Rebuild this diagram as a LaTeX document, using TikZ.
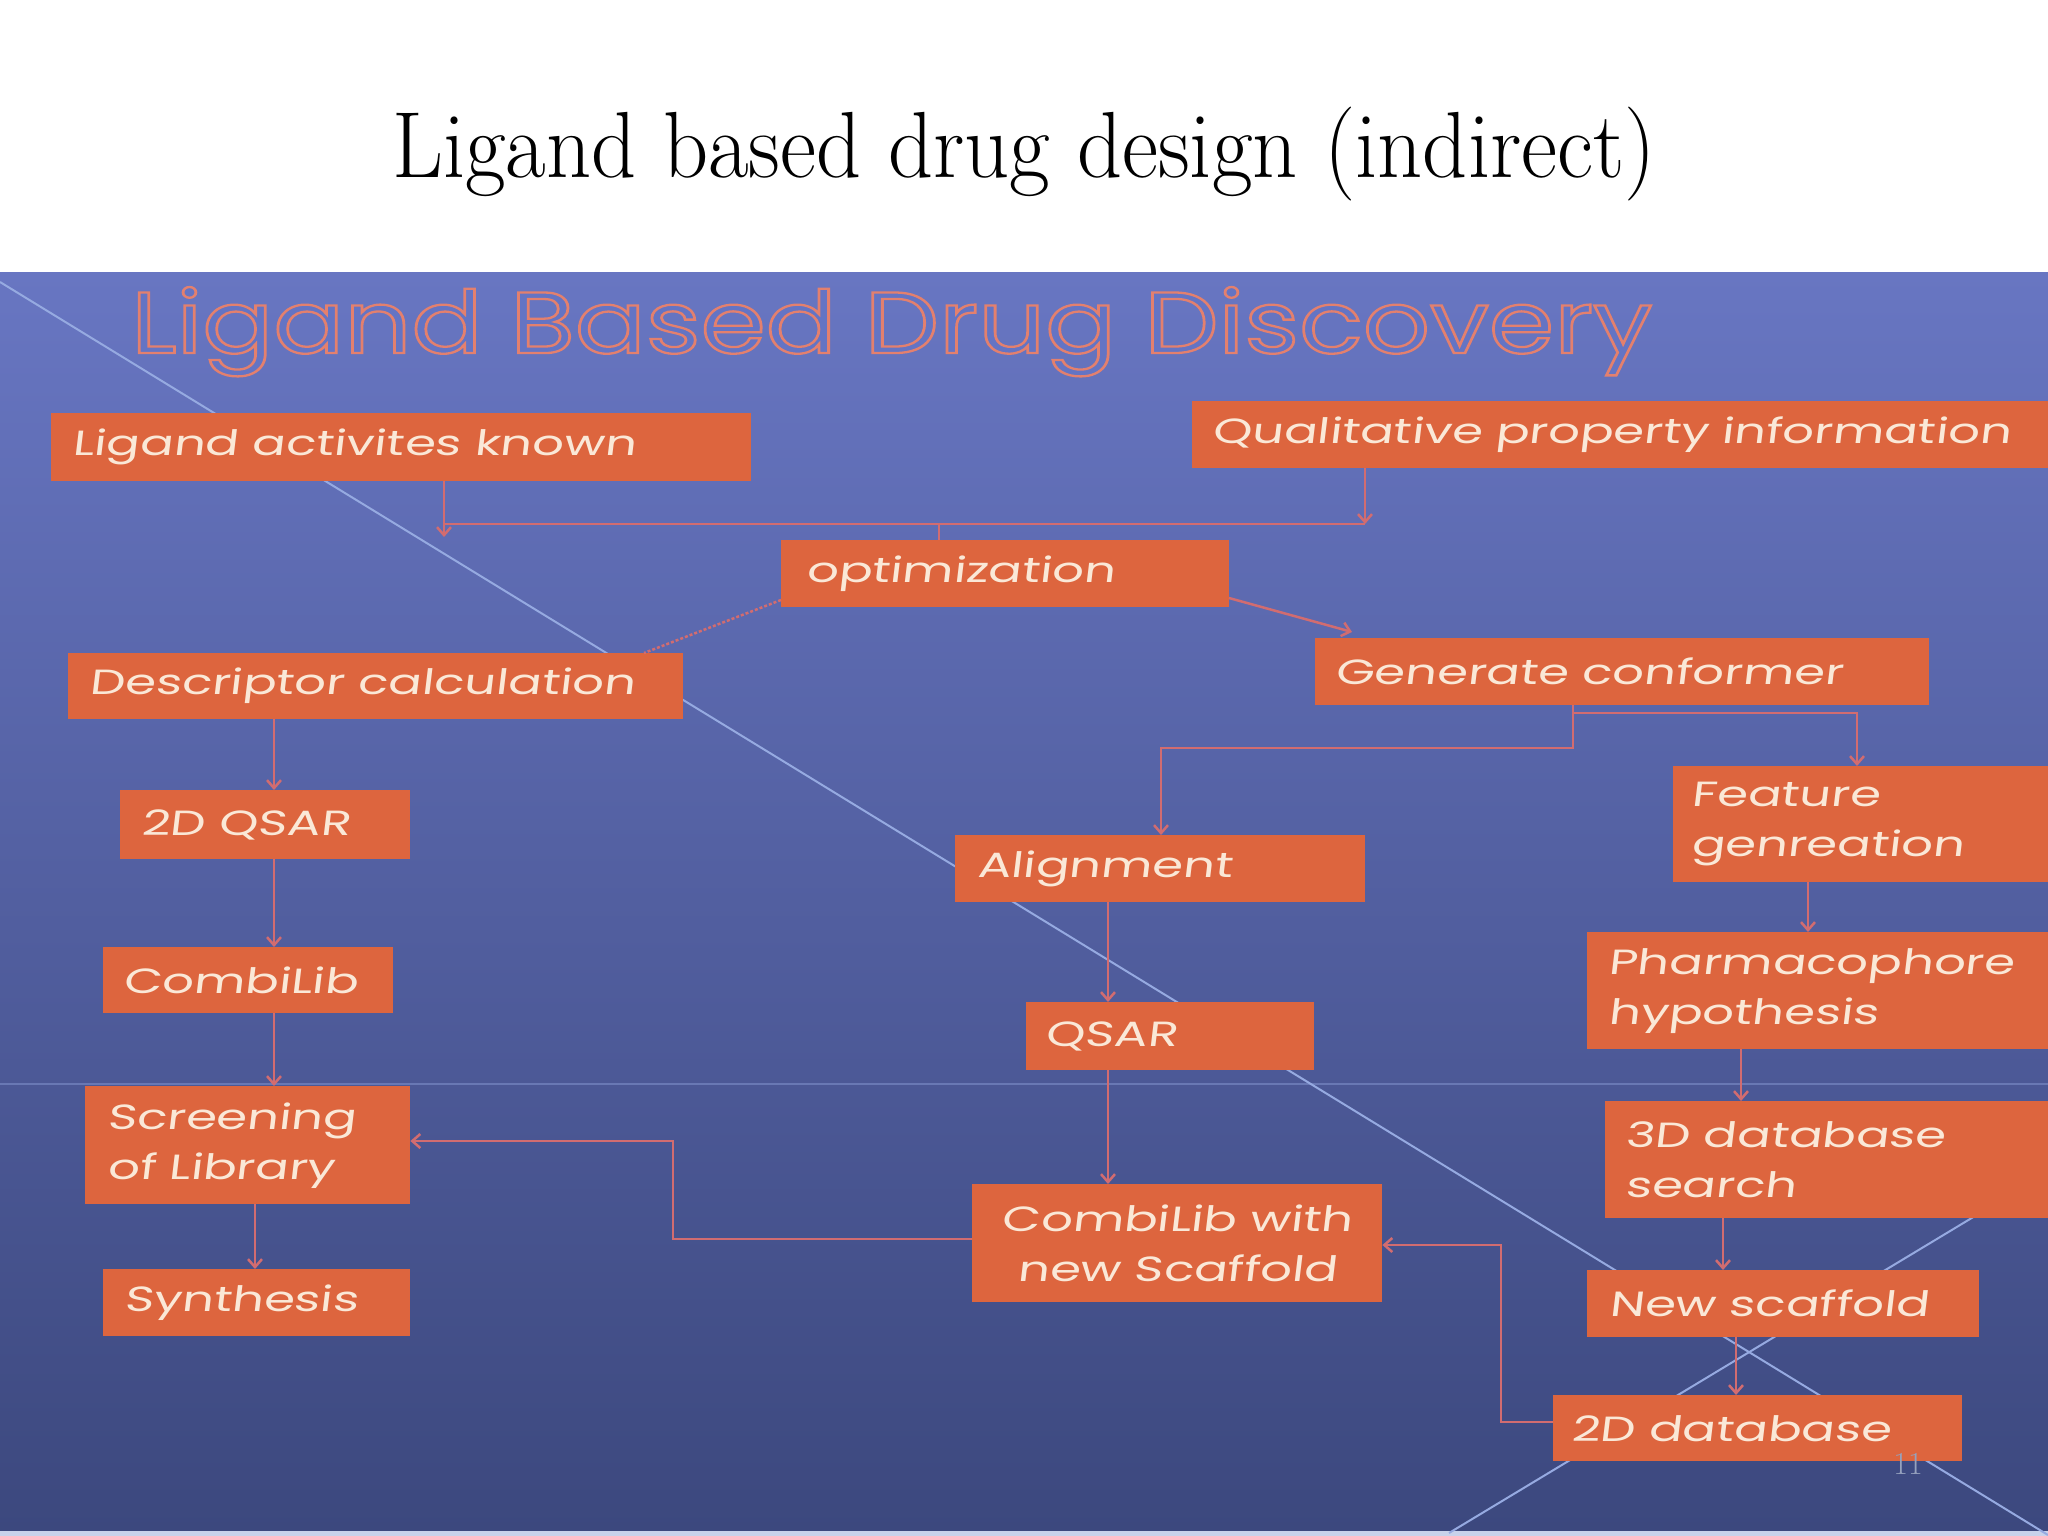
\documentclass[tikz,border=0pt]{standalone}
\usepackage{fontspec}
\usetikzlibrary{arrows.meta}
\newfontfamily\boxfont[FakeSlant=0.12,FakeStretch=1.42]{Poppins}
\newfontfamily\headfont{Poppins}
\definecolor{boxfill}{RGB}{221,101,62}
\definecolor{boxtext}{RGB}{250,232,215}
\definecolor{linec}{RGB}{210,108,112}
\definecolor{diagc}{RGB}{150,170,225}
\definecolor{bgtop}{RGB}{104,118,194}
\definecolor{bgmid}{RGB}{82,96,166}
\definecolor{bgbot}{RGB}{60,72,126}
\definecolor{headfill}{RGB}{100,116,196}
\definecolor{pgnum}{RGB}{150,162,190}
\definecolor{bglight}{RGB}{200,210,235}
\newcommand{\outlinetext}[1]{\special{pdf:literal direct 0.89 0.50 0.43 RG 2.4 w 2 Tr}#1\special{pdf:literal direct 0 Tr}}
\begin{document}
\begin{tikzpicture}[x=1pt,y=-1pt,
  bx/.style={fill=boxfill, draw=none, inner sep=0pt, anchor=north west},
  btxt/.style={text=boxtext, font=\boxfont\fontsize{35}{50}\selectfont, inner sep=0pt, anchor=west, align=left},
  conn/.style={draw=linec, line width=2.5pt},
  arr/.style={conn, -{Straight Barb[length=8pt,width=14pt]}},
  diag/.style={draw=diagc, line width=2pt}]
\useasboundingbox (0,0) rectangle (2048,1536);
% background
\fill[white] (0,0) rectangle (2048,1536);
\shade[top color=bgtop, middle color=bgmid, bottom color=bgbot] (0,272) rectangle (2048,1531);
\fill[bglight] (0,1531) rectangle (2048,1536);
\draw[diag, draw opacity=0.4] (0,1084) -- (2048,1084);
\draw[diag] (0,282) -- (2048,1535);
\draw[diag] (1449,1533) -- (2048,1172);
% title
\node[anchor=base, inner sep=0pt] (title) at (1024,177)
  {\fontsize{94}{100}\selectfont\scalebox{0.94}[1]{Ligand based drug design (indirect)}};
% header
\node[anchor=base west, inner sep=0pt] (head) at (131,353)
  {\resizebox{1521pt}{66pt}{\headfont\fontsize{91}{95}\selectfont\color{headfill}\outlinetext{Ligand Based Drug Discovery}}};
% boxes
\node[bx, minimum width=700pt, minimum height=68pt] (lig) at (51,413) {};
\node[bx, minimum width=870pt, minimum height=67pt] (qual) at (1192,401) {};
\node[bx, minimum width=448pt, minimum height=67pt] (opt) at (781,540) {};
\node[bx, minimum width=615pt, minimum height=66pt] (desc) at (68,653) {};
\node[bx, minimum width=614pt, minimum height=67pt] (gen) at (1315,638) {};
\node[bx, minimum width=290pt, minimum height=69pt] (q2d) at (120,790) {};
\node[bx, minimum width=290pt, minimum height=66pt] (comb) at (103,947) {};
\node[bx, minimum width=325pt, minimum height=118pt] (scr) at (85,1086) {};
\node[bx, minimum width=307pt, minimum height=67pt] (syn) at (103,1269) {};
\node[bx, minimum width=410pt, minimum height=67pt] (ali) at (955,835) {};
\node[bx, minimum width=288pt, minimum height=68pt] (qsar) at (1026,1002) {};
\node[bx, minimum width=410pt, minimum height=118pt] (cnew) at (972,1184) {};
\node[bx, minimum width=390pt, minimum height=116pt] (feat) at (1673,766) {};
\node[bx, minimum width=470pt, minimum height=117pt] (phar) at (1587,932) {};
\node[bx, minimum width=450pt, minimum height=117pt] (db3) at (1605,1101) {};
\node[bx, minimum width=392pt, minimum height=67pt] (nsc) at (1587,1270) {};
\node[bx, minimum width=409pt, minimum height=66pt] (db2) at (1553,1395) {};
% texts
\node[btxt] (tlig) at ([xshift=21pt]lig.west) {Ligand activites known};
\node[btxt] (tqual) at ([xshift=20pt]qual.west) {Qualitative property information};
\node[btxt] (topt) at ([xshift=25pt]opt.west) {optimization};
\node[btxt] (tdesc) at ([xshift=21pt]desc.west) {Descriptor calculation};
\node[btxt] (tgen) at ([xshift=20pt]gen.west) {Generate conformer};
\node[btxt] (tq2d) at ([xshift=21pt]q2d.west) {2D QSAR};
\node[btxt] (tcomb) at ([xshift=20pt]comb.west) {CombiLib};
\node[btxt] (tscr) at ([xshift=22pt]scr.west) {Screening\\of Library};
\node[btxt] (tsyn) at ([xshift=21pt]syn.west) {Synthesis};
\node[btxt] (tali) at ([xshift=22pt]ali.west) {Alignment};
\node[btxt] (tqsar) at ([xshift=19pt]qsar.west) {QSAR};
\node[btxt, anchor=center, align=center] (tcnew) at (cnew.center) {CombiLib with\\new Scaffold};
\node[btxt] (tfeat) at ([xshift=18pt]feat.west) {Feature\\genreation};
\node[btxt] (tphar) at ([xshift=21pt]phar.west) {Pharmacophore\\hypothesis};
\node[btxt] (tdb3) at ([xshift=20pt]db3.west) {3D database\\search};
\node[btxt] (tnsc) at ([xshift=22pt]nsc.west) {New scaffold};
\node[btxt] (tdb2) at ([xshift=18pt]db2.west) {2D database};
% page number
\node[text=pgnum, font=\fontsize{32}{32}\selectfont, inner sep=0pt] (pg) at (1908,1464) {11};
% connector helper coordinates
\coordinate (busL) at (444,524);
\coordinate (busR) at (1365,524);
\coordinate (busM) at (939,524);
\coordinate (busLe) at (444,537);
\coordinate (optA) at (781,600);
\coordinate (descA) at (644,653);
\coordinate (optB) at (1229,598);
\coordinate (genA) at (1352,632);
\coordinate (gx) at (1573,705);
\coordinate (ax) at (1161,748);
\coordinate (fx) at (1857,713);
\coordinate (c274) at (274,0);
\coordinate (c255) at (255,0);
\coordinate (c1108) at (1108,0);
\coordinate (k1) at (0,1239);
\coordinate (k2) at (673,1141);
\coordinate (m1) at (0,1422);
\coordinate (m2) at (1501,1245);
\coordinate (c1808) at (1808,0);
\coordinate (c1741) at (1741,0);
\coordinate (c1723) at (1723,0);
\coordinate (c1736) at (1736,0);
% connectors
\draw[arr] (lig.south -| busL) -- (busLe);
\draw[arr] (qual.south -| busR) -- (busR);
\draw[conn] (busR) -- (busL);
\draw[conn] (busM) -- (opt.north -| busM);
\draw[conn, densely dashed] (optA) -- (descA);
\draw[arr] (optB) -- (genA);
\draw[arr] (gen.south -| gx) |- (ax) -- (ali.north -| ax);
\draw[arr] (gen.south -| gx) |- (fx) -- (feat.north -| fx);
\draw[arr] (desc.south -| c274) -- (q2d.north -| c274);
\draw[arr] (q2d.south -| c274) -- (comb.north -| c274);
\draw[arr] (comb.south -| c274) -- (scr.north -| c274);
\draw[arr] (scr.south -| c255) -- (syn.north -| c255);
\draw[arr] (ali.south -| c1108) -- (qsar.north -| c1108);
\draw[arr] (qsar.south -| c1108) -- (cnew.north -| c1108);
\draw[arr] (cnew.west |- k1) -| (k2) -- (scr.east |- k2);
\draw[arr] (feat.south -| c1808) -- (phar.north -| c1808);
\draw[arr] (phar.south -| c1741) -- (db3.north -| c1741);
\draw[arr] (db3.south -| c1723) -- (nsc.north -| c1723);
\draw[arr] (nsc.south -| c1736) -- (db2.north -| c1736);
\draw[arr] (db2.west |- m1) -| (m2) -- (cnew.east |- m2);
\end{tikzpicture}
\end{document}
